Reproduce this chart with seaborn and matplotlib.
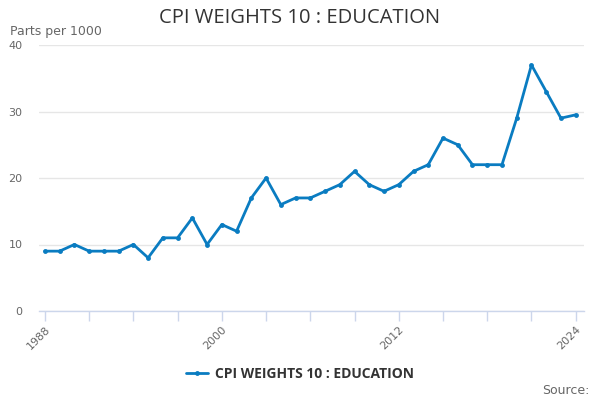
import matplotlib
matplotlib.use("Agg")
import matplotlib.pyplot as plt
import seaborn as sns
import pandas as pd

YEARS = list(range(1988, 2025))
WEIGHTS = [9, 9, 10, 9, 9, 9, 10, 8, 11, 11, 14, 10, 13, 12, 17, 20,
           16, 17, 17, 18, 19, 21, 19, 18, 19, 21, 22, 26, 25, 22, 22,
           22, 29, 37, 33, 29, 29.5]
TICK_YEARS = list(range(1988, 2025, 3))
LABEL_YEARS = [1988, 2000, 2012, 2024]
SERIES = "CPI WEIGHTS 10 : EDUCATION"

LINE_COLOR = "#0a7cc1"


def main():
    sns.set_style("white")
    plt.rcParams["font.family"] = ["DejaVu Sans"]

    df = pd.DataFrame({"year": YEARS, "value": WEIGHTS})

    fig = plt.figure(figsize=(6, 4), dpi=100)
    ax = fig.add_axes([0.065, 0.2225, 0.908, 0.665])

    sns.lineplot(data=df, x="year", y="value", ax=ax, color=LINE_COLOR,
                 linewidth=2, marker="o", markersize=3.5,
                 markeredgewidth=0, label=SERIES)

    ax.set_xlim(1987.6, 2024.55)
    ax.set_ylim(0, 40)
    ax.set_yticks([0, 10, 20, 30, 40])
    ax.yaxis.grid(True, color="#e6e6e6", linewidth=1)
    ax.set_axisbelow(True)

    # ticks every 3 years, labels only every 12
    ax.set_xticks(TICK_YEARS)
    ax.set_xticklabels([str(y) if y in LABEL_YEARS else "" for y in TICK_YEARS],
                       rotation=45, ha="right", rotation_mode="anchor")
    ax.tick_params(axis="x", bottom=True, direction="out", length=7.5,
                   color="#ccd6eb", width=1, labelsize=8,
                   labelcolor="#666666", pad=2)
    ax.tick_params(axis="y", left=False, length=0, labelsize=8,
                   labelcolor="#666666", pad=12)

    for side in ["top", "right", "left"]:
        ax.spines[side].set_visible(False)
    ax.spines["bottom"].set_color("#ccd6eb")
    ax.spines["bottom"].set_linewidth(1)

    ax.set_xlabel("")
    ax.set_ylabel("")

    fig.text(0.5, 0.955, "CPI WEIGHTS 10 : EDUCATION", ha="center",
             va="center", fontsize=14.5, color="#333333",
             family=["Open Sans", "DejaVu Sans"])
    fig.text(0.017, 0.92, "Parts per 1000", ha="left", va="center",
             fontsize=9, color="#666666")
    fig.text(0.983, 0.023, "Source:", ha="right", va="center",
             fontsize=9, color="#666666")

    ax.legend(loc="center", frameon=False, handlelength=1.6,
              handletextpad=0.5,
              prop={"weight": "bold", "size": 10,
                    "family": ["Open Sans", "DejaVu Sans"]},
              labelcolor="#333333")
    leg = ax.get_legend()
    leg.set_bbox_to_anchor((0.5, 0.065), transform=fig.transFigure)

    fig.savefig("out.png", dpi=100)


if __name__ == "__main__":
    main()
